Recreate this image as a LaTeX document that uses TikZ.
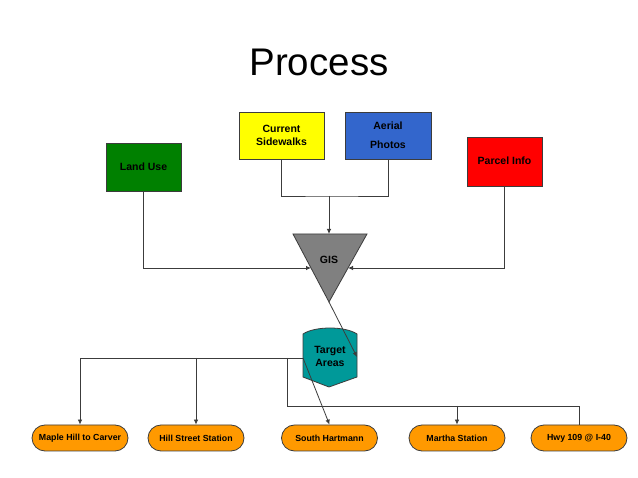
\documentclass[tikz,border=0pt]{standalone}
\usepackage{fontspec}
\setmainfont{Liberation Sans}
\usetikzlibrary{arrows.meta}
\definecolor{lgreen}{RGB}{0,128,0}
\definecolor{lyellow}{RGB}{255,255,0}
\definecolor{lblue}{RGB}{51,102,204}
\definecolor{lred}{RGB}{255,0,0}
\definecolor{lgray}{RGB}{128,128,128}
\definecolor{lteal}{RGB}{0,153,153}
\definecolor{lorange}{RGB}{255,153,0}
\definecolor{lline}{RGB}{60,60,60}
\begin{document}
\begin{tikzpicture}[x=1pt,y=-1pt,
  srcbox/.style={draw=lline,line width=0.8pt,inner sep=0pt,align=center,font=\fontsize{10.5}{13}\selectfont\bfseries},
  pill/.style={draw=lline,line width=0.8pt,fill=lorange,rounded corners=13pt,minimum width=96pt,minimum height=26pt,inner sep=0pt,font=\fontsize{8.8}{11}\selectfont\bfseries},
  conn/.style={draw=lline,line width=0.8pt},
  arr/.style={conn,-{Latex[length=5pt,width=4.5pt]}}]
\useasboundingbox (0,0) rectangle (638,478);
\fill[white] (0,0) rectangle (638,478);
% title
\node[font=\fontsize{38.5}{40}\selectfont] (title) at (319,62) {Process};
% sources
\node[srcbox,fill=lgreen,minimum width=75pt,minimum height=48pt] (land) at (143.5,167) {Land Use};
\node[srcbox,fill=lyellow,minimum width=85pt,minimum height=47pt] (side) at (281.5,135.5) {Current\\Sidewalks};
\node[srcbox,fill=lblue,minimum width=86pt,minimum height=47pt] (aer) at (388,135.5) {\raisebox{-1.5pt}{Aerial}\\[6pt]\raisebox{-1.5pt}{Photos}};
\node[srcbox,fill=lred,minimum width=75pt,minimum height=49pt] (parc) at (504.5,161.5) {\raisebox{2pt}{Parcel Info}};
% GIS triangle
\filldraw[fill=lgray,draw=lline,line width=0.8pt] (293,234) -- (367,234) -- (329,302) -- cycle;
\node[font=\fontsize{10.5}{13}\selectfont\bfseries] (gis) at (329,260) {GIS};
\coordinate (gisT) at (329,234);
\coordinate (gisL) at (311,268);
\coordinate (gisR) at (348,268);
\coordinate (gisA) at (329,302);
% Target areas
\filldraw[fill=lteal,draw=lline,line width=0.8pt] (303,334) .. controls (315,326) and (345,326) .. (357,334) -- (357,377) -- (329,387) -- (303,377) -- cycle;
\node[align=center,font=\fontsize{10.5}{13}\selectfont\bfseries] (tgt) at (330,356.5) {Target\\Areas};
\coordinate (tgL) at (303,358);
\coordinate (tgR) at (357,357);
% outputs
\node[pill] (maple) at (80,438) {Maple Hill to Carver};
\node[pill] (hill) at (196,438) {Hill Street Station};
\node[pill] (south) at (329.5,438) {South Hartmann};
\node[pill] (mar) at (457,438) {Martha Station};
\node[pill] (hwy) at (579,438) {Hwy 109 @ I-40};
% junctions
\coordinate (jtop) at (329,196);
\coordinate (jhill) at (196,358);
\coordinate (jdown) at (287,358);
\coordinate (jlow) at (287,406);
\coordinate (jmar) at (457,406);
% connectors
\draw[conn] (side.south) |- (jtop) -| (aer.south);
\draw[arr] (jtop) -- (gisT);
\draw[arr] (land.south) |- (gisL);
\draw[arr] (parc.south) |- (gisR);
\draw[arr] (gisA) -- (tgR);
\draw[arr] (tgL) -| (maple.north);
\draw[arr] (jhill) -- (hill.north);
\draw[arr] (tgL) -- (south.north);
\draw[conn] (jdown) -- (jlow) -| (hwy.north);
\draw[arr] (jmar) -- (mar.north);
\end{tikzpicture}
\end{document}
